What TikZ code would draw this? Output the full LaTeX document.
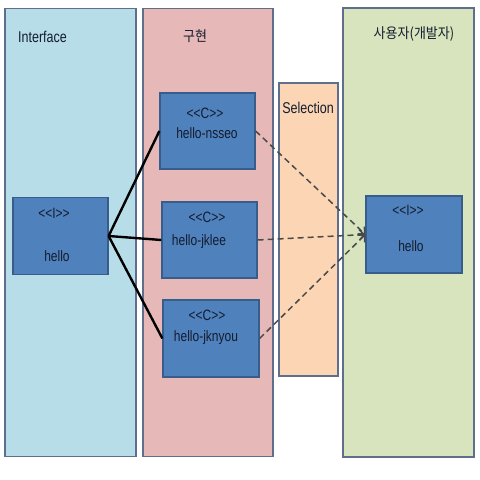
\documentclass[tikz,border=0pt]{standalone}
\usepackage{graphicx}
\usepackage{fontspec}
\setmainfont{Liberation Sans}
\newfontfamily\krfont{Noto Sans CJK KR}
\usetikzlibrary{arrows.meta}
\definecolor{ifblue}{HTML}{B7DEE8}
\definecolor{implpink}{HTML}{E6B9B8}
\definecolor{selpeach}{HTML}{FCD5B5}
\definecolor{usergreen}{HTML}{D7E4BD}
\definecolor{boxblue}{HTML}{4F81BD}
\definecolor{boxedge}{HTML}{385D8A}
\definecolor{paneledge}{HTML}{5E6E8C}
\definecolor{dashgray}{HTML}{4A4A4A}
\definecolor{inktext}{HTML}{141C2E}
\newcommand{\stereo}[1]{<\kern0pt<#1>\kern0pt>}
\newcommand{\tall}[1]{\scalebox{1}[1.25]{#1}}

\begin{document}
\begin{tikzpicture}[x=1pt, y=-1pt,
    panel/.style={draw=paneledge, line width=1.5pt, inner sep=0pt},
    box/.style={draw=boxedge, fill=boxblue, line width=1.2pt, minimum width=95pt, minimum height=76pt, inner sep=0pt},
    title/.style={font=\fontsize{12.5}{14}\selectfont, text=inktext, inner sep=0pt},
    krtitle/.style={title, font=\krfont\fontsize{13}{15}\selectfont},
    tag/.style={font=\fontsize{12}{14}\selectfont, text=inktext, inner sep=0pt},
    realize/.style={line width=2.4pt},
    use/.style={dashgray, line width=1.5pt, dash pattern=on 6pt off 4pt, -{Straight Barb[length=5pt,width=10pt]}}
]
\useasboundingbox (0,0) rectangle (480,480);

% panels
\node[panel, fill=ifblue, minimum width=131pt, minimum height=448pt] (ifpanel) at (70.5,232.5) {};
\node[panel, fill=implpink, minimum width=130pt, minimum height=448pt] (implpanel) at (208,232.5) {};
\node[panel, fill=selpeach, minimum width=59pt, minimum height=293pt] (selpanel) at (308.5,229.5) {};
\node[panel, fill=usergreen, minimum width=131pt, minimum height=449pt] (userpanel) at (408.5,232.5) {};

\node[title, anchor=west] (iftitle) at (18,37) {\tall{Interface}};
\node[krtitle] (impltitle) at (195,36) {\scalebox{1}[1.1]{구현}};
\node[title] (seltitle) at (308,108) {\tall{Selection}};
\node[krtitle] (usertitle) at (414,34) {\scalebox{1}[1.1]{사용자(개발자)}};

% boxes
\node[box, minimum height=77pt] (ifhello) at (60.5,236) {};
\node[box] (nsseo) at (207.5,131) {};
\node[box] (jklee) at (209.5,240) {};
\node[box, minimum width=96pt, minimum height=77pt] (jknyou) at (211,338.5) {};
\node[box, minimum width=96pt, minimum height=77pt] (userhello) at (414,234.5) {};

\node[tag] (ifhellotag) at (54,213) {\tall{\stereo{I}}};
\node[tag] (ifhelloname) at (57,256) {\tall{hello}};
\node[tag] (nsseotag) at (205,113) {\tall{\stereo{C}}};
\node[tag] (nsseoname) at (207,133) {\tall{hello-nsseo}};
\node[tag] (jkleetag) at (207,217) {\tall{\stereo{C}}};
\node[tag] (jkleename) at (199,242) {\tall{hello-jklee}};
\node[tag] (jknyoutag) at (207,315) {\tall{\stereo{C}}};
\node[tag] (jknyouname) at (206,338) {\tall{hello-jknyou}};
\node[tag] (usertag) at (408,210) {\tall{\stereo{I}}};
\node[tag] (username) at (411,246) {\tall{hello}};

% connectors
\draw[realize] (ifhello.east) -- (nsseo.west);
\draw[realize] (ifhello.east) -- (jklee.west);
\draw[realize] (ifhello.east) -- (jknyou.west);

\draw[use] (nsseo.east) -- (userhello.west);
\draw[use] (jklee.east) -- (userhello.west);
\draw[use] (jknyou.east) -- (userhello.west);

\end{tikzpicture}
\end{document}
